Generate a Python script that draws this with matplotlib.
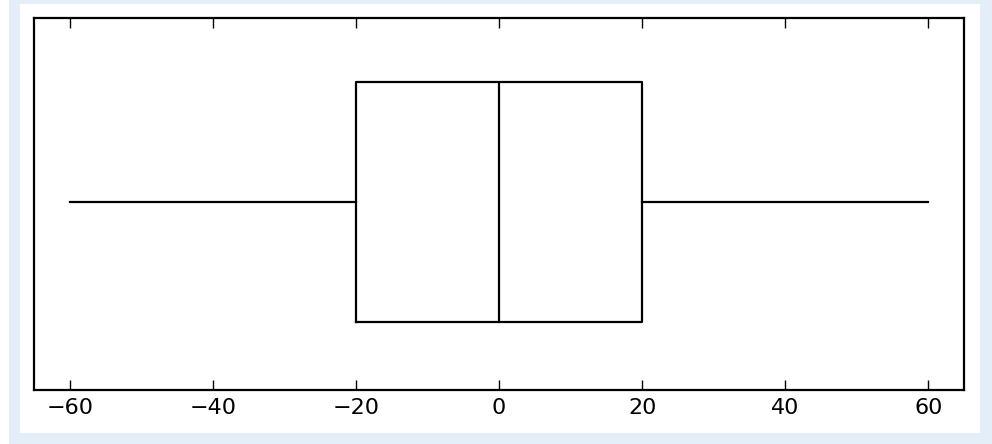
import numpy as np
import matplotlib
matplotlib.use("Agg")
import matplotlib.pyplot as plt
from matplotlib.patches import Rectangle

# sample whose quartiles / whiskers give the drawn box
values = [-60, -20, 0, 20, 60]
tick_vals = [-60, -40, -20, 0, 20, 40, 60]

fig = plt.figure(figsize=(9.92, 4.44), dpi=100, facecolor="#e3eef9")
W, H = 992.0, 444.0
# white strip at far left, white page inside the blue frame
fig.patches.append(Rectangle((0, 0), 9 / W, 1, transform=fig.transFigure,
                             facecolor="white", edgecolor="none", zorder=-2))
fig.patches.append(Rectangle((20 / W, 11 / H), 960 / W, 429 / H,
                             transform=fig.transFigure, facecolor="white",
                             edgecolor="none", zorder=-2))

ax = fig.add_axes([34 / W, (H - 390) / H, 930 / W, 372 / H])
ax.set_zorder(2)
ax.set_facecolor("white")

lw = 1.6
ax.boxplot(values, vert=False, positions=[1], widths=0.645, showcaps=False,
           showfliers=False,
           boxprops=dict(color="black", linewidth=lw),
           whiskerprops=dict(color="black", linewidth=lw),
           medianprops=dict(color="black", linewidth=lw))

ax.set_xlim(-65, 65)
ax.set_ylim(0.495, 1.495)
ax.set_xticks(tick_vals)
ax.set_xticklabels([f"{v}".replace("-", "\u2212") for v in tick_vals])
ax.set_yticks([])
ax.tick_params(axis="x", direction="in", top=True, bottom=True, length=7,
               width=1.0, labelsize=16, pad=6)
for s in ax.spines.values():
    s.set_linewidth(1.6)

fig.savefig("out.png", dpi=100, facecolor=fig.get_facecolor())
